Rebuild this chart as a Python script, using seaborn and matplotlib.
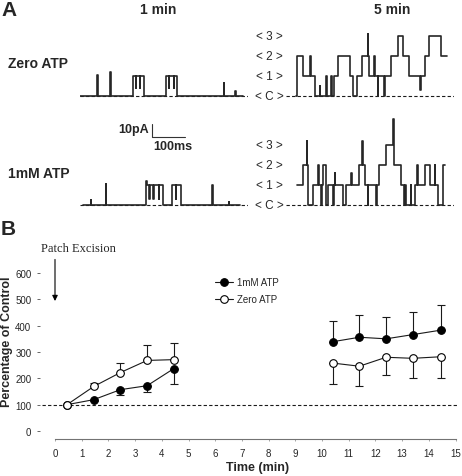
import pandas as pd
import seaborn as sns
import matplotlib.pyplot as plt
from matplotlib.lines import Line2D

sns.set_style("white")
plt.rcParams['font.family'] = ['Liberation Sans', 'DejaVu Sans']

# ---- panel B: percentage of control vs time ----
times = [0.45, 1.45, 2.45, 3.45, 4.45, 10.4, 11.4, 12.4, 13.4, 14.45]
segment = [0, 0, 0, 0, 0, 1, 1, 1, 1, 1]
atp_mean = [100, 119, 157, 172, 237, 339, 356, 350, 366, 383]
atp_err_lo = [0, 5, 22, 23, 60, 0, 0, 0, 0, 0]
atp_err_hi = [0, 0, 0, 0, 0, 79, 85, 82, 87, 96]
zero_mean = [100, 169, 222, 268, 271, 258, 246, 280, 276, 282]
zero_err_lo = [0, 0, 0, 0, 0, 80, 74, 69, 75, 80]
zero_err_hi = [0, 15, 35, 57, 62, 0, 0, 0, 0, 0]
x_ticks = list(range(0, 16))
y_ticks = [0, 100, 200, 300, 400, 500, 600]

# ---- panel A: single channel traces (time in ms, level = open channels) ----
UNIT = 15  # pA per open channel
zero_1min_t = [0, 52, 54, 92, 94, 160, 170, 171, 182, 183, 195, 260, 270, 271, 285, 286, 295, 435, 437, 470, 472]
zero_1min_lvl = [0, 1.05, 0, 1.2, 0, 1, 0.4, 1, 0.4, 1, 0, 1, 0.4, 1, 0.4, 1, 0, 0.67, 0, 0.27, 0]
zero_1min_end = 495
atp_1min_t = [9, 32, 34, 78, 80, 200, 202, 210, 211, 222, 223, 238, 239, 252, 278, 290, 291, 305, 400, 402, 450, 452]
atp_1min_lvl = [0, 0.25, 0, 1.05, 0, 1.2, 1, 0.3, 1, 0.3, 1, 0.3, 1, 0, 1, 0.3, 1, 0, 1.0, 0, 0.15, 0]
atp_1min_end = 485
zero_5min_t = [0, 4, 20, 42, 44, 58, 72, 73, 92, 93, 107, 110, 115, 127, 164, 174, 184, 200, 217, 218,
               220, 237, 239, 247, 249, 267, 269, 287, 309, 324, 342, 377, 379, 390, 404, 440]
zero_5min_lvl = [0, 2, 1, 2, 1, 0, 0.5, 0, 1, 0, 1, 0, 1, 2, 1, 0, 1, 2, 3.1, 2,
                 1, 2, 1, 0, 1, 0, 1, 2, 3, 2, 1, 0.3, 1, 2, 3, 2]
zero_5min_end = 457
atp_5min_t = [4, 20, 32, 34, 37, 52, 67, 69, 77, 79, 82, 90, 92, 97, 112, 114, 117, 119, 142, 152,
              167, 169, 192, 200, 202, 210, 217, 219, 242, 244, 252, 274, 295, 297, 317, 327, 329, 332,
              347, 348, 362, 367, 369, 392, 407, 420, 422, 430, 444]
atp_5min_lvl = [1, 2, 3.2, 2, 0, 1, 2, 1, 0, 1, 2, 1, 0, 1, 0, 1, 1.6, 1, 0, 1,
                1.6, 1, 2, 3.2, 2, 1, 0, 1, 0, 1, 2, 3, 4.3, 2, 1, 0, 1, 0,
                1, 0, 1, 2, 1, 2, 1, 2, 1, 0, 2]
atp_5min_end = 452
level_names = ['< C >', '< 1 >', '< 2 >', '< 3 >']

W, H = 462, 477
fig = plt.figure(figsize=(W / 100, H / 100), dpi=100)


def px_axes(left, top, width, height):
    return fig.add_axes([left / W, 1 - (top + height) / H, width / W, height / H])


MS_PX = 0.33
PA_PX = 20 / UNIT


def trace_axes(left, baseline, x0, x1):
    ax = px_axes(left, baseline - 70 * PA_PX, (x1 - x0) * MS_PX, 80 * PA_PX)
    ax.set_xlim(x0, x1)
    ax.set_ylim(-10, 70)
    ax.axis('off')
    ax.patch.set_alpha(0)
    return ax


def draw_trace(ax, t, lvl, end):
    ax.axhline(0, color='0.1', lw=0.8, ls=(0, (3, 2)))
    ys = [v * UNIT for v in lvl]
    ax.step(t + [end], ys + [ys[-1]], where='post', color='0.15', lw=1.2)


ax1 = trace_axes(80, 97, 0, 510)
draw_trace(ax1, zero_1min_t, zero_1min_lvl, zero_1min_end)
ax3 = trace_axes(80, 206, 0, 510)
draw_trace(ax3, atp_1min_t, atp_1min_lvl, atp_1min_end)
ax2 = trace_axes(296 - 30 * MS_PX, 97, -30, 480)
draw_trace(ax2, zero_5min_t, zero_5min_lvl, zero_5min_end)
ax4 = trace_axes(296 - 30 * MS_PX, 206, -30, 480)
draw_trace(ax4, atp_5min_t, atp_5min_lvl, atp_5min_end)

for ax in (ax2, ax4):
    for k, name in enumerate(level_names):
        ax.text(-82, k * UNIT, name, ha='center', va='center', fontsize=8.5, clip_on=False)

# scale bar 10 pA / 100 ms
ax3.plot([218, 218, 318], [51 + 10, 51, 51], color='0.2', lw=0.8, clip_on=False)
ax3.text(210, 57, '10pA', ha='right', va='center', fontsize=9, fontweight='bold')
ax3.text(221, 44, '100ms', ha='left', va='center', fontsize=9, fontweight='bold')

fig.text(1 / W, 1 - 10 / H, 'A', fontsize=15, fontweight='bold', va='center')
fig.text(1 / W, 1 - 230 / H, 'B', fontsize=15, fontweight='bold', va='center')
fig.text(158 / W, 1 - 10 / H, '1 min', fontsize=10, fontweight='bold', ha='center', va='center')
fig.text(392 / W, 1 - 10 / H, '5 min', fontsize=10, fontweight='bold', ha='center', va='center')
fig.text(8 / W, 1 - 64 / H, 'Zero ATP', fontsize=10, fontweight='bold', va='center')
fig.text(8 / W, 1 - 174 / H, '1mM ATP', fontsize=10, fontweight='bold', va='center')

# ---- panel B ----
axB = px_axes(55 - 0.5 * 26.7, 274, 15.6 * 26.7, 158)
axB.set_xlim(-0.5, 15.1)
axB.set_ylim(0, 600)
axB.patch.set_alpha(0)

df = pd.DataFrame({
    'time': times * 2,
    'pct': atp_mean + zero_mean,
    'condition': ['1mM ATP'] * len(times) + ['Zero ATP'] * len(times),
    'segment': segment * 2,
})

axB.axhline(100, color='0.1', lw=0.8, ls=(0, (3, 2)), zorder=1)

for lo, hi, mean in ((atp_err_lo, atp_err_hi, atp_mean), (zero_err_lo, zero_err_hi, zero_mean)):
    idx = [i for i in range(len(times)) if lo[i] > 0 or hi[i] > 0]
    axB.errorbar([times[i] for i in idx], [mean[i] for i in idx],
                 yerr=[[lo[i] for i in idx], [hi[i] for i in idx]],
                 fmt='none', ecolor='0.1', elinewidth=0.8, capsize=2.9, capthick=0.8, zorder=2)

for cond, fc in (('1mM ATP', 'black'), ('Zero ATP', 'white')):
    sns.lineplot(data=df[df.condition == cond], x='time', y='pct', units='segment', estimator=None,
                 color='0.1', marker='o', markersize=5.5, markerfacecolor=fc, markeredgecolor='black',
                 markeredgewidth=0.8, linewidth=0.8, ax=axB, legend=False, zorder=3)

for side in ('top', 'right'):
    axB.spines[side].set_visible(False)
axB.spines['left'].set_position(('outward', 1.2))
axB.spines['left'].set_visible(False)
axB.spines['bottom'].set_position(('outward', 5.8))
axB.spines['bottom'].set_bounds(0, 15)
axB.spines['bottom'].set_color('0.45')
axB.spines['bottom'].set_linewidth(0.8)
axB.set_xticks(x_ticks)
axB.set_yticks(y_ticks)
axB.tick_params(axis='y', length=2.2, width=0.6, color='0.3', pad=4, labelsize=7, left=True)
axB.tick_params(axis='x', length=1.5, width=0.5, color='0.5', pad=5, labelsize=7, bottom=True)
axB.set_xlabel('')
axB.set_ylabel('')

axB.annotate('', xy=(0, 483), xytext=(0, 662),
             arrowprops=dict(arrowstyle='-|>', color='black', lw=0.8, mutation_scale=8),
             annotation_clip=False)
axB.text(0.88, 694, 'Patch Excision', ha='center', va='center', fontsize=9,
         family=['Liberation Serif', 'DejaVu Serif'], clip_on=False)

handles = [Line2D([], [], color='0.1', lw=0.8, marker='o', markersize=5.5, markerfacecolor=fc,
                  markeredgecolor='black', markeredgewidth=0.8) for fc in ('black', 'white')]
fig.legend(handles, ['1mM ATP', 'Zero ATP'], loc='upper left', bbox_to_anchor=(215 / W, 1 - 278 / H),
           frameon=False, fontsize=7, handlelength=1.85, handletextpad=0.4, labelspacing=0.75,
           borderpad=0, borderaxespad=0)

fig.text(7 / W, 1 - 342 / H, 'Percentage of Control', rotation=90, ha='center', va='center',
         fontsize=9, fontweight='bold')
fig.text(258 / W, 1 - 468 / H, 'Time (min)', ha='center', va='center', fontsize=9, fontweight='bold')

fig.savefig('out.png', dpi=100)
